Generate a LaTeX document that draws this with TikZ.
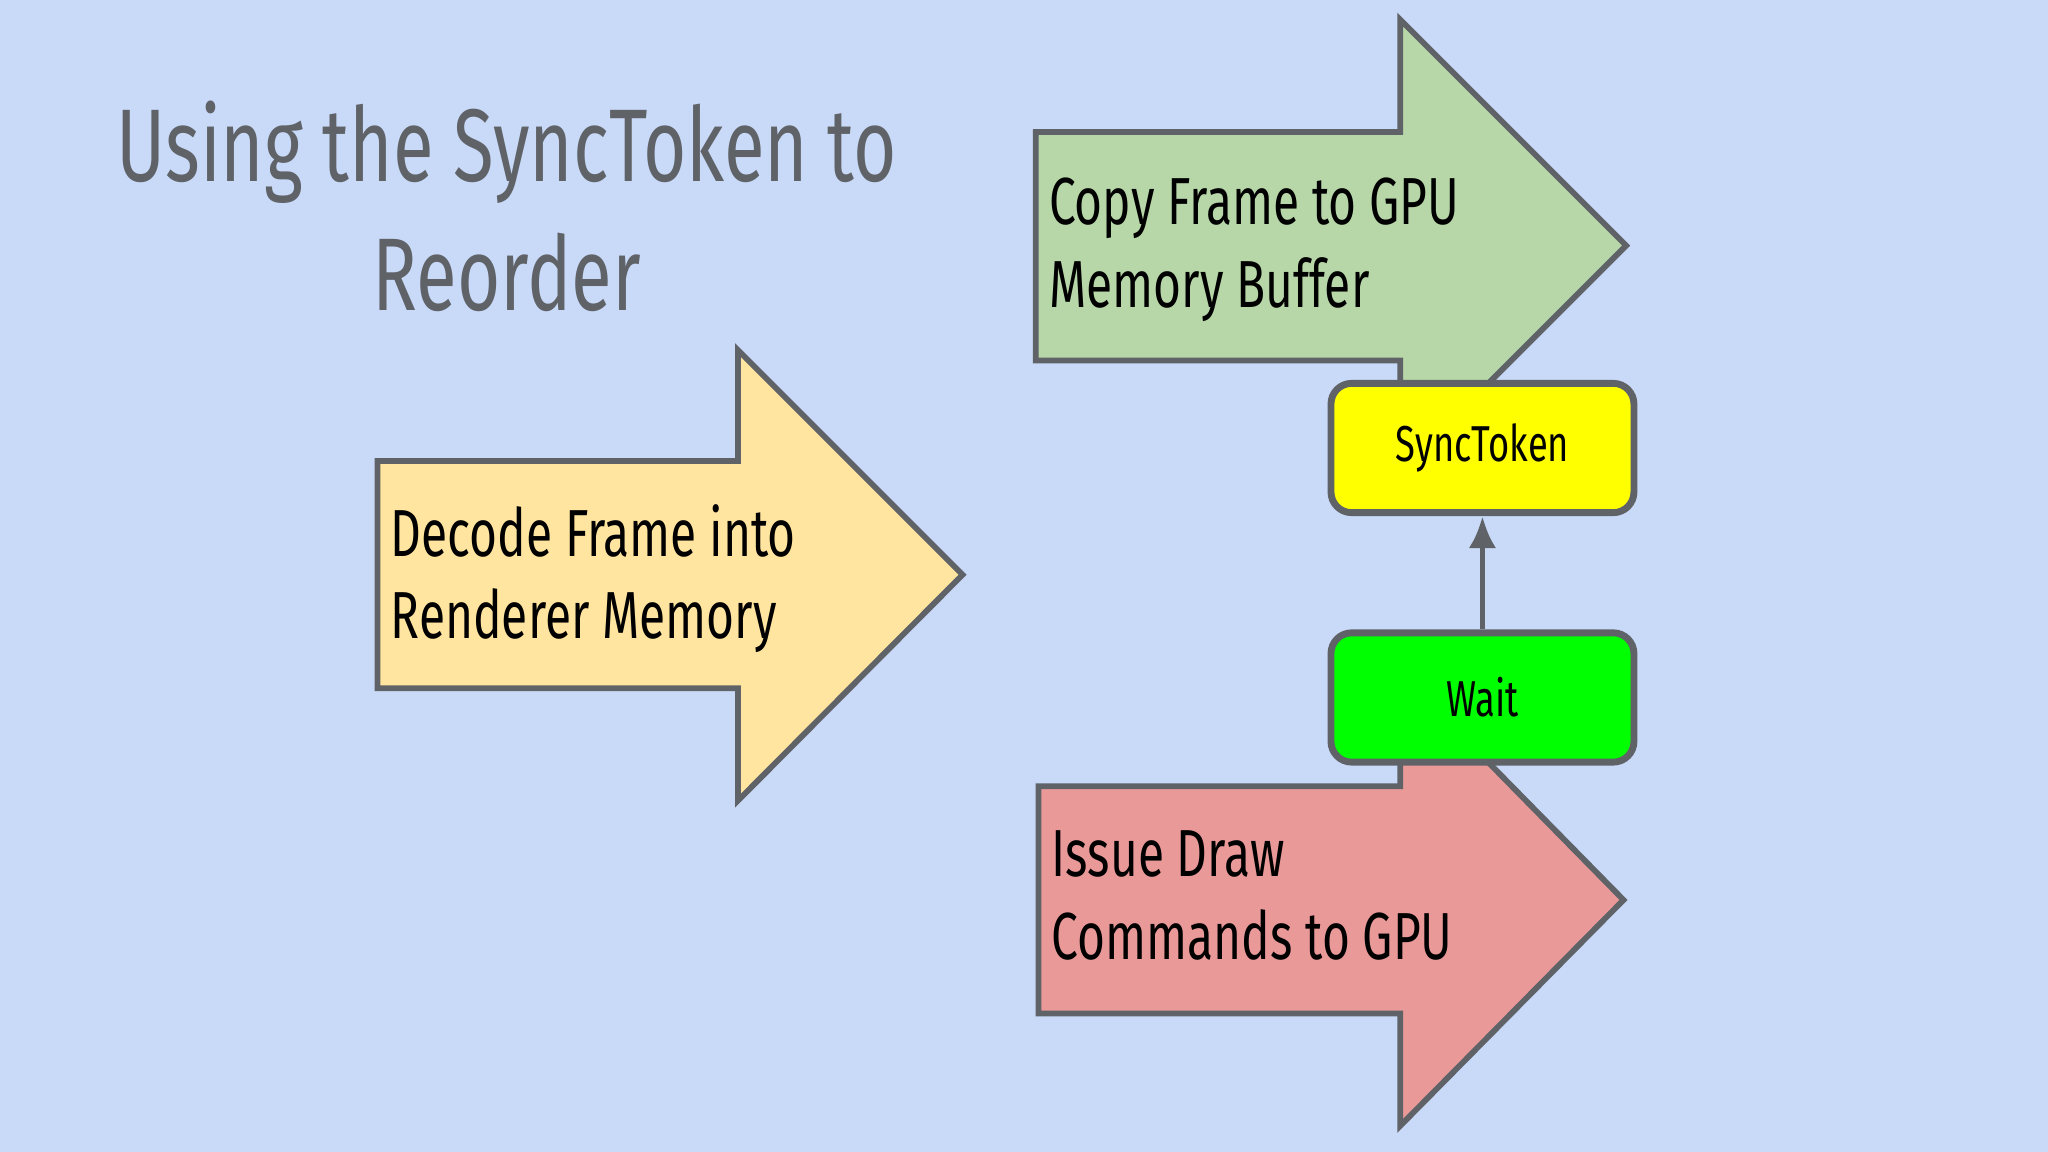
\documentclass[tikz,border=0pt]{standalone}
\usepackage{fontspec}
\setmainfont{Fira Sans}[FakeStretch=0.72]
\usetikzlibrary{arrows.meta}
\definecolor{bg}{HTML}{C9D9F8}
\definecolor{edge}{HTML}{5F6368}
\definecolor{decode}{HTML}{FFE59F}
\definecolor{copy}{HTML}{B7D7A8}
\definecolor{issue}{HTML}{EA9999}
\definecolor{sync}{HTML}{FFFF00}
\definecolor{waitc}{HTML}{00FF00}
\begin{document}
\begin{tikzpicture}[x=0.02cm, y=-0.02cm]
\tikzset{
  arrow/.style={
    -{Latex[length=14pt, width=12pt]},
    line width=2.5pt,
    edge
  },
  bigarrow/.style={
    draw=edge,
    line width=2.5pt,
    line join=miter
  },
  box/.style={
    draw=edge,
    line width=3pt,
    rounded corners=9pt,
    minimum width=4.64cm,
    minimum height=1.98cm,
    font=\fontsize{22}{26}\selectfont
  },
  caption/.style={
    anchor=north west,
    align=left,
    font=\fontsize{29}{36}\selectfont
  }
}

% Background
\fill[bg] (0,0) rectangle (1568,882);

% Title
\node (title) [edge, align=center, font=\fontsize{45}{56}\selectfont] at (388,158)
  {Using the SyncToken to\\Reorder};

% Decode
\draw[bigarrow, fill=decode] (289,353) -- (565,353) -- (565,268) -- (737,440)
  -- (565,613) -- (565,527) -- (289,527) -- cycle;
\node (decode) [caption] at (293,380) {Decode Frame into\\Renderer Memory};

% Copy
\draw[bigarrow, fill=copy] (793,101) -- (1072,101) -- (1072,15) -- (1245,188)
  -- (1072,361) -- (1072,276) -- (793,276) -- cycle;
\node (copy) [caption] at (797,130) {Copy Frame to GPU\\Memory Buffer};

% Issue
\draw[bigarrow, fill=issue] (795,602) -- (1072,602) -- (1072,515) -- (1243,689)
  -- (1072,862) -- (1072,776) -- (795,776) -- cycle;
\node (issue) [caption] at (799,630) {Issue Draw\\Commands to GPU};

% Sync
\node (sync) [box, fill=sync] at (1135,343) {SyncToken};
\node (wait) [box, fill=waitc] at (1135,534) {Wait};

\draw[arrow] (wait) -- (sync);

\end{tikzpicture}
\end{document}
